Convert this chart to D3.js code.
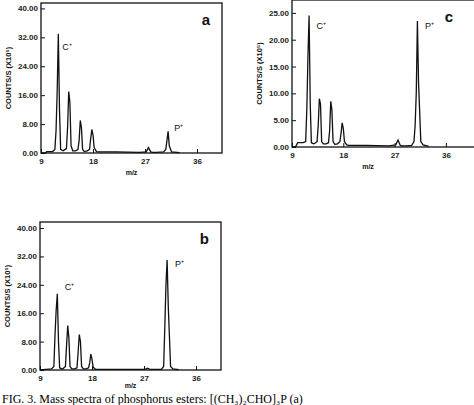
<!DOCTYPE html>
<html><head><meta charset="utf-8">
<script src="https://cdn.jsdelivr.net/npm/d3@7"></script>
<style>body{margin:0;background:#fff}svg{display:block}</style>
</head><body>
<svg id="c" width="474" height="405"></svg>
<script>
// tick labels
const xTicks = [9, 18, 27, 36];
const yTicksAB = [0, 8, 16, 24, 32, 40];
const yLabelsAB = ["0.00", "8.00", "16.00", "24.00", "32.00", "40.00"];
const yTicksC = [0, 5, 10, 15, 20, 25];
const yLabelsC = ["0.00", "5.00", "10.00", "15.00", "20.00", "25.00"];

// spectrum a (m/z, counts/s ×10^5 ×100)
const mzA = [9,9.8,10,11,11.4,11.6,11.8,12,12.2,12.4,12.8,13,13.4,13.6,13.8,14,14.2,14.5,15,15.4,15.6,15.8,16,16.2,16.5,17,17.4,17.6,17.8,18,18.2,18.6,19,22,26,27.2,27.6,28,28.3,29,30.2,30.6,30.8,31,31.2,31.6,33];
const valA = [0,0,0.4,0.4,1,6,17,33,12,1,0.6,0.8,1.2,7,17,14,2,0.6,0.6,1,3.5,9,7,1,0.4,0.6,1,4,6.5,5,1.5,0.4,0.3,0.3,0.2,0.3,1.5,0.3,0.2,0.2,0.3,1,3.5,6,2,0.3,0.1];
// spectrum c
const mzC = [9,9.6,10,11,11.4,11.6,11.8,12,12.2,12.4,12.8,13,13.4,13.6,13.8,14,14.2,14.5,15,15.4,15.6,15.8,16,16.2,16.5,17,17.4,17.6,17.8,18,18.2,18.6,19,22,26,27.2,27.6,28,28.3,29,30,30.4,30.6,30.8,31,31.2,31.6,32,33];
const valC = [0,0,0.8,0.8,1,7,17,24.5,8,0.8,0.6,0.7,1,4,9,8,1,0.6,0.6,0.8,3,8.5,7,1,0.5,0.6,1,2.5,4.5,3.5,1,0.4,0.3,0.3,0.2,0.4,1.3,0.3,0.2,0.2,0.3,1,4,10,23.5,12,1,0.4,0.1];
// spectrum b
const mzB = [9,10,11,11.4,11.6,11.8,12,12.2,12.4,12.8,13,13.4,13.6,13.8,14,14.2,14.5,15,15.4,15.6,15.8,16,16.2,16.5,17,17.4,17.6,17.8,18,18.2,18.6,19,22,26,27.2,27.6,28,28.3,29,30,30.4,30.6,30.8,31,31.2,31.6,32,33];
const valB = [0,0.2,0.3,1,10,17,21.5,8,0.6,0.3,0.4,1,7,12.5,9,1,0.3,0.3,0.6,5,10,8,1,0.3,0.3,0.6,2,4.5,3,0.8,0.2,0.2,0.2,0.2,0.2,0.5,0.2,0.2,0.2,0.2,1,12,24,31,18,1,0.3,0.1];

const panels = [
  {id:"a", mz:mzA, v:valA, x0:41, x1:222, yTop:3, yBot:153, ymax:41.5, ticks:yTicksAB, labels:yLabelsAB, c:"C⁺", cx:12, cy:28.5, p:"P⁺", px:31.7, py:6, mzDy:22},
  {id:"c", mz:mzC, v:valC, x0:292, x1:504, yTop:0, yBot:147, ymax:27.4, ticks:yTicksC, labels:yLabelsC, c:"C⁺", cx:12.6, cy:22, p:"P⁺", px:32, py:22, mzDy:22},
  {id:"b", mz:mzB, v:valB, x0:40, x1:221, yTop:222, yBot:370, ymax:41.7, ticks:yTicksAB, labels:yLabelsAB, c:"C⁺", cx:12.6, cy:22.5, p:"P⁺", px:32, py:29, mzDy:18}
];

const svg = d3.select("#c");
const font = "Liberation Sans, Arial, sans-serif";
panels.forEach(P => {
  const x = d3.scaleLinear().domain([9, 9 + (P.x1 - P.x0) / ((P.id==="c"?51.3:52)/9)]).range([P.x0, P.x1]);
  const y = d3.scaleLinear().domain([0, P.ymax]).range([P.yBot, P.yTop]);
  const g = svg.append("g").attr("font-family", font).attr("fill", "#111");
  g.append("rect").attr("x", P.x0).attr("y", P.yTop).attr("width", P.x1 - P.x0).attr("height", P.yBot - P.yTop)
    .attr("fill", "none").attr("stroke", "#111").attr("stroke-width", 1.3);
  const xa = g.append("g").attr("transform", `translate(0,${P.yBot})`)
    .call(d3.axisBottom(x).tickValues(xTicks).tickSize(-4).tickPadding(5).tickFormat(d3.format("d")));
  const ya = g.append("g").attr("transform", `translate(${P.x0},0)`)
    .call(d3.axisLeft(y).tickValues(P.ticks).tickSize(-4).tickPadding(3).tickFormat((d,i)=>P.labels[i]));
  [xa, ya].forEach(a => {
    a.select(".domain").remove();
    a.selectAll("text").attr("font-size", 8).attr("font-weight", "bold").attr("fill", "#222");
    a.selectAll("line").attr("stroke", "#111");
  });
  g.append("text").attr("x", (P.x0 + Math.min(P.x1, 474)) / 2 - (P.id==="c"?15:0)).attr("y", P.yBot + P.mzDy)
    .attr("text-anchor", "middle").attr("font-size", 7).attr("font-weight", "bold").text("m/z");
  const my = (P.yTop + P.yBot) / 2;
  g.append("text").attr("transform", `translate(${P.x0 - 30},${my}) rotate(-90)`)
    .attr("text-anchor", "middle").attr("font-size", 7.5).attr("font-weight", "bold")
    .text("COUNTS/S      (X10⁵)");
  const line = d3.line().x(d => x(d[0])).y(d => y(d[1]));
  g.append("path").datum(P.mz.map((m, i) => [m, P.v[i]]))
    .attr("d", line).attr("fill", "none").attr("stroke", "#111").attr("stroke-width", 1.3);
  g.append("text").attr("x", x(P.cx) + 4).attr("y", y(P.cy)).attr("font-size", 9).text(P.c);
  g.append("text").attr("x", x(P.px) + 2).attr("y", y(P.py)).attr("font-size", 9).text(P.p);
  g.append("text").attr("x", P.id==="c" ? 453 : P.x1 - 12).attr("y", P.yTop + 22)
    .attr("text-anchor", "end").attr("font-size", 15).attr("font-weight", "bold").text(P.id);
});
svg.append("text").attr("x", 2).attr("y", 403).attr("font-family", "Liberation Serif, serif")
  .attr("font-size", 12).text("FIG. 3.  Mass spectra of phosphorus esters: [(CH₃)₂CHO]₃P (a)");
</script>
</body></html>
